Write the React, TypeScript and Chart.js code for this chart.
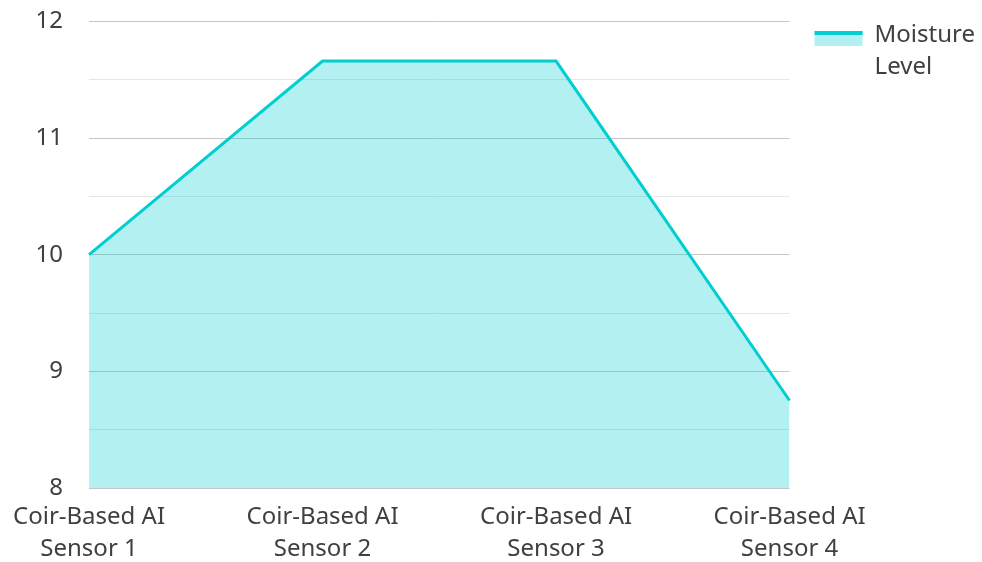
import React, { useEffect, useRef } from "react";
import { Chart, registerables } from "chart.js";

Chart.register(...registerables);

const categories: string[][] = [
  ["Coir-Based AI", "Sensor 1"],
  ["Coir-Based AI", "Sensor 2"],
  ["Coir-Based AI", "Sensor 3"],
  ["Coir-Based AI", "Sensor 4"],
];
const seriesName: string[] = ["Moisture", "Level"];
const moistureValues: number[] = [10, 11.66, 11.66, 8.75];
const yMin = 8;
const yMax = 12;

const LINE = "#00CED1";
const FILL = "rgba(0, 206, 209, 0.3)";
const TEXT = "#404040";
const FONT = "'Noto Sans', 'Open Sans', sans-serif";
const LEGEND_BOX_SLOT = 69;
const LEGEND_BOX_W = 48;
const LEGEND_BOX_H = 15;

const legendBoxPlugin = {
  id: "legendBoxPlugin",
  afterDraw(chart: any) {
    const legend = chart.legend;
    if (!legend || !legend.legendHitBoxes || !legend.legendHitBoxes.length) return;
    const hb = legend.legendHitBoxes[0];
    const ctx = chart.ctx;
    const x = hb.left + (LEGEND_BOX_SLOT - LEGEND_BOX_W);
    const y = hb.top + 8;
    ctx.save();
    ctx.fillStyle = FILL;
    ctx.fillRect(x, y, LEGEND_BOX_W, LEGEND_BOX_H);
    ctx.fillStyle = LINE;
    ctx.fillRect(x, y, LEGEND_BOX_W, 4);
    ctx.restore();
  },
};

export default function App() {
  const ref = useRef<HTMLCanvasElement | null>(null);
  useEffect(() => {
    document.body.style.margin = "0";
    if (!ref.current) return;
    const chart = new Chart(ref.current, {
      type: "line",
      data: {
        labels: categories as any,
        datasets: [
          {
            label: seriesName as any,
            data: moistureValues,
            borderColor: LINE,
            backgroundColor: FILL,
            borderWidth: 3,
            fill: "start",
            pointRadius: 0,
            pointHoverRadius: 0,
            tension: 0,
          },
        ],
      },
      options: {
        animation: false,
        responsive: true,
        maintainAspectRatio: false,
        layout: { padding: { left: 28, top: 19, right: -3, bottom: 0 } },
        plugins: {
          tooltip: { enabled: false },
          legend: {
            position: "right",
            align: "start",
            labels: {
              boxWidth: LEGEND_BOX_SLOT,
              boxHeight: LEGEND_BOX_H,
              color: TEXT,
              font: { family: FONT, size: 24, lineHeight: 1.333 },
              padding: 4,
              generateLabels: (c: any) =>
                c.data.datasets.map((d: any, i: number) => ({
                  text: d.label,
                  fillStyle: "rgba(0,0,0,0)",
                  strokeStyle: "rgba(0,0,0,0)",
                  lineWidth: 0,
                  hidden: false,
                  datasetIndex: i,
                  fontColor: TEXT,
                })),
            },
          },
        },
        scales: {
          x: {
            offset: false,
            grid: { display: false, drawTicks: false },
            border: { display: false },
            afterFit: (scale: any) => {
              scale.height = 74;
            },
            ticks: {
              color: TEXT,
              padding: 13,
              maxRotation: 0,
              font: { family: FONT, size: 24, lineHeight: 1.333 },
            },
          },
          y: {
            min: yMin,
            max: yMax,
            grid: {
              drawTicks: true,
              tickLength: 19,
              tickColor: "rgba(0,0,0,0)",
              color: (ctx: any) =>
                ctx.tick && Number.isInteger(ctx.tick.value) ? "#c6c6c6" : "#e6e6e6",
              lineWidth: 1,
            },
            border: { display: false },
            ticks: {
              stepSize: 0.5,
              padding: 7,
              color: TEXT,
              font: { family: FONT, size: 24 },
              callback: (v: any) => (Number.isInteger(v) ? String(v) : ""),
            },
          },
        },
      },
      plugins: [legendBoxPlugin],
    });
    return () => chart.destroy();
  }, []);
  return (
    <div style={{ width: "982px", height: "562px", position: "relative" }}>
      <canvas ref={ref} />
    </div>
  );
}
